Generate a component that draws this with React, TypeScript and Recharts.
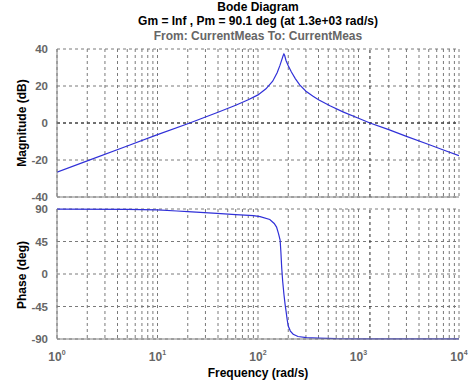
import React from "react";
import { LineChart, Line, XAxis, YAxis, CartesianGrid, ReferenceLine } from "recharts";

// magnitude curve (rad/s, dB)
const magFreq = [1, 2, 5, 10, 20, 40, 60, 80, 100, 120, 140, 155, 165, 172, 178, 181, 184, 190, 200, 215, 235, 260, 300, 350, 400, 520, 700, 1000, 1300, 2000, 3000, 5000, 7000, 10000];
const magDb = [-26.6, -20.5, -12.4, -6.3, -0.4, 5.8, 9.6, 12.6, 15.2, 18.5, 22.6, 27.2, 31.0, 34.0, 36.5, 37.3, 36.6, 33.8, 31.0, 27.6, 24.0, 20.6, 17.2, 14.6, 12.6, 9.3, 6.0, 2.6, 0, -3.6, -7.2, -11.6, -14.6, -17.6];

// phase curve (rad/s, deg)
const phaseFreq = [1, 5, 10, 15.6, 20, 39, 60, 90, 105, 131, 145, 153, 160, 166, 169, 172, 176, 181, 186, 190, 195, 200, 210, 224, 250, 303, 400, 600, 1000, 10000];
const phaseDeg = [89.8, 89.5, 88.7, 87.2, 86.3, 84, 82.3, 80.8, 79.5, 75.5, 70, 65, 56, 47, 30, 9.5, -10, -27.6, -42, -51, -63, -72, -79, -83.4, -86.5, -88, -88.8, -89.5, -89.7, -89.9];

const freqTicks = [
  1, 2, 3, 4, 5, 6, 7, 8, 9,
  10, 20, 30, 40, 50, 60, 70, 80, 90,
  100, 200, 300, 400, 500, 600, 700, 800, 900,
  1000, 2000, 3000, 4000, 5000, 6000, 7000, 8000, 9000,
  10000,
];
const decadeTicks = [1, 10, 100, 1000, 10000];
const decadeExp = ["0", "1", "2", "3", "4"];
const magTicks = [-40, -20, 0, 20, 40];
const phaseTicks = [-90, -45, 0, 45, 90];
const crossoverFreq = 1300;

const magData = magFreq.map((w, i) => ({ w, db: magDb[i] }));
const phaseData = phaseFreq.map((w, i) => ({ w, deg: phaseDeg[i] }));

const FONT = "'Liberation Sans', Arial, sans-serif";
const BLUE = "#3030d8";
const GRID = "#7a7a7a";
const FRAME = "#808080";
const TICK_TEXT = "#666666";

const FreqTick = (props: any) => {
  const { x, y, payload } = props;
  const idx = decadeTicks.indexOf(payload.value);
  if (idx < 0) return <g />;
  return (
    <text x={x} y={y + 14} textAnchor="middle" fill={TICK_TEXT} fontFamily={FONT} fontSize={12} fontWeight="bold">
      <tspan>10</tspan>
      <tspan dy={-6} fontSize={7}>{decadeExp[idx]}</tspan>
    </text>
  );
};

const NoTick = () => <g />;

const yTickStyle = { fill: TICK_TEXT, fontFamily: FONT, fontSize: 11.5, fontWeight: "bold" as const };

const App = () => {
  return (
    <div style={{ position: "fixed", left: 0, top: 0, width: 474, height: 381, background: "#fff" }}>
      <div style={{ position: "absolute", left: 0, top: 0 }}>
        <LineChart width={474} height={205} data={magData} margin={{ top: 49, right: 15, bottom: 5, left: 0 }}>
          <CartesianGrid stroke={GRID} strokeDasharray="3 3" />
          <XAxis
            dataKey="w"
            type="number"
            scale="log"
            domain={[1, 10000]}
            ticks={freqTicks}
            interval={0}
            allowDataOverflow
            height={3}
            tick={<NoTick />}
            tickLine={false}
            axisLine={{ stroke: FRAME }}
          />
          <XAxis xAxisId="top" orientation="top" dataKey="w" type="number" scale="log" domain={[1, 10000]} height={0} tick={false} tickLine={false} axisLine={{ stroke: FRAME }} />
          <YAxis
            domain={[-40, 40]}
            ticks={magTicks}
            interval={0}
            width={57}
            tickLine={false}
            axisLine={{ stroke: FRAME }}
            tick={yTickStyle}
            tickMargin={3}
          />
          <YAxis yAxisId="right" orientation="right" domain={[-40, 40]} width={0} tick={false} tickLine={false} axisLine={{ stroke: FRAME }} />
          <ReferenceLine y={0} stroke="#222" strokeDasharray="3 3" />
          <ReferenceLine x={crossoverFreq} stroke="#222" strokeDasharray="3 3" />
          <Line type="linear" dataKey="db" stroke={BLUE} strokeWidth={1.2} dot={false} isAnimationActive={false} />
        </LineChart>
      </div>
      <div style={{ position: "absolute", left: 0, top: 196 }}>
        <LineChart width={474} height={185} data={phaseData} margin={{ top: 13, right: 15, bottom: 0, left: 0 }}>
          <CartesianGrid stroke={GRID} strokeDasharray="3 3" />
          <XAxis
            dataKey="w"
            type="number"
            scale="log"
            domain={[1, 10000]}
            ticks={freqTicks}
            allowDataOverflow
            height={42}
            tickLine={false}
            axisLine={{ stroke: FRAME }}
            tick={<FreqTick />}
            interval={0}
          />
          <XAxis xAxisId="top" orientation="top" dataKey="w" type="number" scale="log" domain={[1, 10000]} height={0} tick={false} tickLine={false} axisLine={{ stroke: FRAME }} />
          <YAxis
            domain={[-90, 90]}
            ticks={phaseTicks}
            interval={0}
            width={57}
            tickLine={false}
            axisLine={{ stroke: FRAME }}
            tick={yTickStyle}
            tickMargin={3}
          />
          <YAxis yAxisId="right" orientation="right" domain={[-90, 90]} width={0} tick={false} tickLine={false} axisLine={{ stroke: FRAME }} />
          <ReferenceLine x={crossoverFreq} stroke="#222" strokeDasharray="3 3" />
          <Line type="linear" dataKey="deg" stroke={BLUE} strokeWidth={1.2} dot={false} isAnimationActive={false} />
        </LineChart>
      </div>
      <svg width={474} height={381} style={{ position: "absolute", left: 0, top: 0, pointerEvents: "none", whiteSpace: "pre" }}>
        <g fontFamily={FONT} fontWeight="bold" fontSize={12} textAnchor="middle">
          <text x={258} y={11} fill="#000">Bode Diagram</text>
          <text x={258} y={25} fill="#000">{"Gm = Inf ,  Pm = 90.1 deg (at 1.3e+03 rad/s)"}</text>
          <text x={258} y={40} fill="#666">{"From: CurrentMeas  To: CurrentMeas"}</text>
          <text x={258} y={377} fill="#000">{"Frequency  (rad/s)"}</text>
          <text transform="translate(26,123) rotate(-90)" fill="#000">Magnitude (dB)</text>
          <text transform="translate(26,275) rotate(-90)" fill="#000">Phase (deg)</text>
        </g>
      </svg>
    </div>
  );
};

export default App;
